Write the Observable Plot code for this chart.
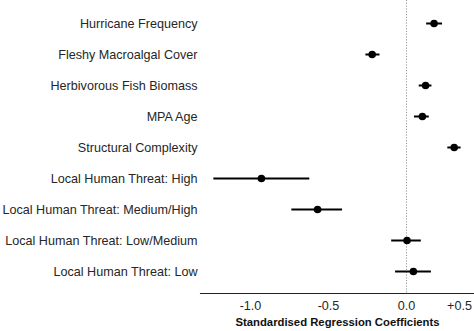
<!DOCTYPE html>
<html>
<head>
<meta charset="utf-8">
<script src="https://cdn.jsdelivr.net/npm/d3@7"></script>
<script src="https://cdn.jsdelivr.net/npm/@observablehq/plot@0.6"></script>
<style>
  html, body { margin: 0; padding: 0; background: #fff; }
  #chart { width: 474px; height: 331px; }
</style>
</head>
<body>
<div id="chart"></div>
<script>
const terms = [
  "Hurricane Frequency",
  "Fleshy Macroalgal Cover",
  "Herbivorous Fish Biomass",
  "MPA Age",
  "Structural Complexity",
  "Local Human Threat: High",
  "Local Human Threat: Medium/High",
  "Local Human Threat: Low/Medium",
  "Local Human Threat: Low"
];
const estimate = [0.26, -0.22, 0.18, 0.15, 0.45, -0.93, -0.57, 0.005, 0.065];
const lower    = [0.19, -0.26, 0.12, 0.075, 0.39, -1.235, -0.735, -0.095, -0.07];
const upper    = [0.34, -0.17, 0.24, 0.215, 0.515, -0.62, -0.41, 0.14, 0.235];
const tickValues = [-1.0, -0.5, 0.0, 0.5];
const tickLabels = ["-1.0", "-0.5", "0.0", "+0.5"];
const xTitle = "Standardised Regression Coefficients";

const rows = terms.map((t, i) => ({term: t, est: estimate[i], lo: lower[i], hi: upper[i]}));

const chart = Plot.plot({
  width: 474,
  height: 331,
  marginLeft: 200,
  marginRight: 0,
  marginTop: 0,
  marginBottom: 38,
  style: {fontFamily: "'Liberation Sans', Arial, sans-serif", color: "#262626", background: "#fff"},
  x: {type: "linear", domain: [-1, 0, 0.5], range: [250, 406, 459]},
  y: {type: "point", domain: terms, padding: 0.59},
  marks: [
    Plot.ruleX([0], {stroke: "#999", strokeWidth: 1, strokeDasharray: "1.2,1.6"}),
    Plot.frame({anchor: "bottom", stroke: "#222", strokeWidth: 1.1}),
    Plot.axisY({tickSize: 0, tickPadding: 3, fontSize: 12.6, label: null}),
    Plot.axisX({ticks: tickValues, tickFormat: (d) => tickLabels[tickValues.indexOf(d)], tickSize: 0, tickPadding: 8, fontSize: 12.6, label: null}),
    Plot.ruleY(rows, {y: "term", x1: "lo", x2: "hi", stroke: "#000", strokeWidth: 2}),
    Plot.dot(rows, {y: "term", x: "est", r: 3.8, fill: "#000"}),
    Plot.text([xTitle], {frameAnchor: "bottom", dy: 32, fontSize: 11.3, fontWeight: "bold", fill: "#111"})
  ]
});
document.getElementById("chart").appendChild(chart);
</script>
</body>
</html>
